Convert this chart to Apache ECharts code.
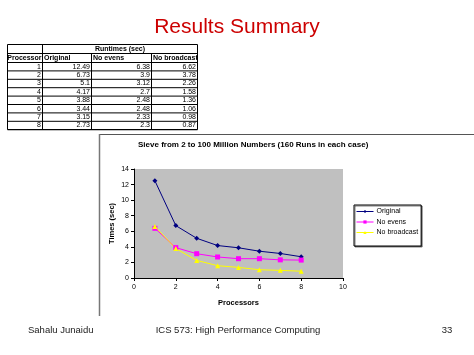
<!DOCTYPE html>
<html>
<head>
<meta charset="utf-8">
<script src="https://cdn.jsdelivr.net/npm/echarts@6/dist/echarts.min.js"></script>
<style>
html,body{margin:0;padding:0;background:#fff;}
#c{width:474px;height:355px;}
</style>
</head>
<body>
<div id="c"></div>
<script>
// ---- data ----
const processors = [1, 2, 3, 4, 5, 6, 7, 8];
const original = [12.49, 6.73, 5.1, 4.17, 3.88, 3.44, 3.15, 2.73];
const noEvens = [6.38, 3.9, 3.12, 2.7, 2.48, 2.48, 2.33, 2.3];
const noBroadcast = [6.62, 3.78, 2.26, 1.58, 1.36, 1.06, 0.98, 0.87];
const seriesNames = ['Original', 'No evens', 'No broadcast'];
const tableHeader = ['Processor', 'Original', 'No evens', 'No broadcast'];
const tableGroupTitle = 'Runtimes (sec)';
const xTicks = [0, 2, 4, 6, 8, 10];
const yTicks = [0, 2, 4, 6, 8, 10, 12, 14];

const FONT = '"Liberation Sans", Arial, sans-serif';

// ---- table built with graphic elements ----
const colX = [7.5, 42.5, 91.5, 151.5, 197.5];
const rowY = [44.5, 53.5, 62.5];
const dataRowH = 8.4;
for (let i = 1; i <= processors.length; i++) rowY.push(62.5 + i * dataRowH);

const g = [];
function line(x1, y1, x2, y2, color, w) {
  g.push({type: 'line', silent: true, shape: {x1, y1, x2, y2}, style: {stroke: color || '#000', lineWidth: w || 1}});
}
function text(x, y, s, opt) {
  g.push({type: 'text', silent: true, x, y, style: Object.assign({text: s, fontFamily: FONT, fontSize: 7, fill: '#000', verticalAlign: 'middle'}, opt || {})});
}
// borders
const tTop = rowY[0], tBot = rowY[rowY.length - 1];
for (let r = 0; r < rowY.length; r++) line(colX[0], rowY[r], colX[4], rowY[r], '#000', r === 0 || r === rowY.length - 1 ? 1.2 : 1);
line(colX[0], tTop, colX[0], tBot);
line(colX[4], tTop, colX[4], tBot);
line(colX[1], tTop, colX[1], tBot);
line(colX[2], rowY[1], colX[2], tBot);
line(colX[3], rowY[1], colX[3], tBot);
// header texts
text((colX[1] + colX[4]) / 2, (rowY[0] + rowY[1]) / 2, tableGroupTitle, {fontWeight: 'bold', align: 'center'});
text(colX[1] - 1, (rowY[1] + rowY[2]) / 2, tableHeader[0], {fontWeight: 'bold', align: 'right'});
for (let c = 1; c < 4; c++) text(colX[c] + 1.5, (rowY[1] + rowY[2]) / 2, tableHeader[c], {fontWeight: 'bold', align: 'left'});
// data rows
const cols = [processors, original, noEvens, noBroadcast];
for (let i = 0; i < processors.length; i++) {
  const cy = (rowY[i + 2] + rowY[i + 3]) / 2;
  for (let c = 0; c < 4; c++) {
    text(colX[c + 1] - 1.5, cy, String(cols[c][i]), {align: 'right'});
  }
}
// chart frame
line(99, 134.5, 474, 134.5, '#555', 1);
line(99.5, 134, 99.5, 316, '#777', 1.5);
// slide title and footer
text(237, 27.5, 'Results Summary', {fontSize: 21, fill: '#cc0000', align: 'center', fontFamily: FONT});
text(28, 330, 'Sahalu Junaidu', {fontSize: 9.5, fill: '#222', align: 'left'});
text(238, 330, 'ICS 573: High Performance Computing', {fontSize: 9.5, fill: '#222', align: 'center'});
text(447, 330, '33', {fontSize: 9.5, fill: '#222', align: 'center'});

const chart = echarts.init(document.getElementById('c'), null, {renderer: 'canvas'});
const mk = (arr) => processors.map((p, i) => [p, arr[i]]);
chart.setOption({
  animation: false,
  textStyle: {fontFamily: FONT},
  title: {
    text: 'Sieve from 2 to 100 Million Numbers (160 Runs in each case)',
    left: 138, top: 141,
    padding: 0,
    textStyle: {fontSize: 8, fontWeight: 'bold', color: '#000', fontFamily: FONT}
  },
  legend: {
    orient: 'vertical',
    left: 354, top: 205,
    padding: [3, 3, 10, 2],
    itemGap: 3.5,
    itemWidth: 17, itemHeight: 4,
    borderColor: '#000', borderWidth: 1,
    shadowColor: 'rgba(0,0,0,0.5)', shadowOffsetX: 1, shadowOffsetY: 1, shadowBlur: 0,
    backgroundColor: '#fff',
    lineStyle: {width: 1},
    textStyle: {fontSize: 7, color: '#000', fontFamily: FONT, padding: [0, 0, 0, -2]},
    data: seriesNames
  },
  grid: {
    left: 134, right: 131, top: 169, bottom: 77,
    show: true, backgroundColor: '#c0c0c0', borderWidth: 0,
    containLabel: false
  },
  xAxis: {
    type: 'value', min: xTicks[0], max: xTicks[xTicks.length - 1], interval: 2,
    name: 'Processors', nameLocation: 'middle', nameGap: 21,
    nameTextStyle: {fontSize: 7.5, fontWeight: 'bold', color: '#000', fontFamily: FONT},
    axisLine: {show: true, lineStyle: {color: '#000', width: 1}},
    axisTick: {show: true, length: 3, lineStyle: {color: '#000'}},
    axisLabel: {fontSize: 7, color: '#000', margin: 6, fontFamily: FONT},
    splitLine: {show: false}
  },
  yAxis: {
    type: 'value', min: yTicks[0], max: yTicks[yTicks.length - 1], interval: 2,
    name: 'Times (sec)', nameLocation: 'middle', nameGap: 18, nameRotate: 90,
    nameTextStyle: {fontSize: 7.5, fontWeight: 'bold', color: '#000', fontFamily: FONT},
    axisLine: {show: true, lineStyle: {color: '#000', width: 1}},
    axisTick: {show: true, length: 3, lineStyle: {color: '#000'}},
    axisLabel: {fontSize: 7, color: '#000', margin: 5, fontFamily: FONT},
    splitLine: {show: false}
  },
  series: [
    {name: seriesNames[0], type: 'line', data: mk(original), symbol: 'diamond', symbolSize: 5,
     itemStyle: {color: '#000080'}, lineStyle: {color: '#000080', width: 1}},
    {name: seriesNames[1], type: 'line', data: mk(noEvens), symbol: 'rect', symbolSize: 5,
     itemStyle: {color: '#ff00ff'}, lineStyle: {color: '#ff00ff', width: 1}},
    {name: seriesNames[2], type: 'line', data: mk(noBroadcast), symbol: 'triangle', symbolSize: 5,
     itemStyle: {color: '#ffff00'}, lineStyle: {color: '#ffff00', width: 1}}
  ],
  graphic: g
});
</script>
</body>
</html>
